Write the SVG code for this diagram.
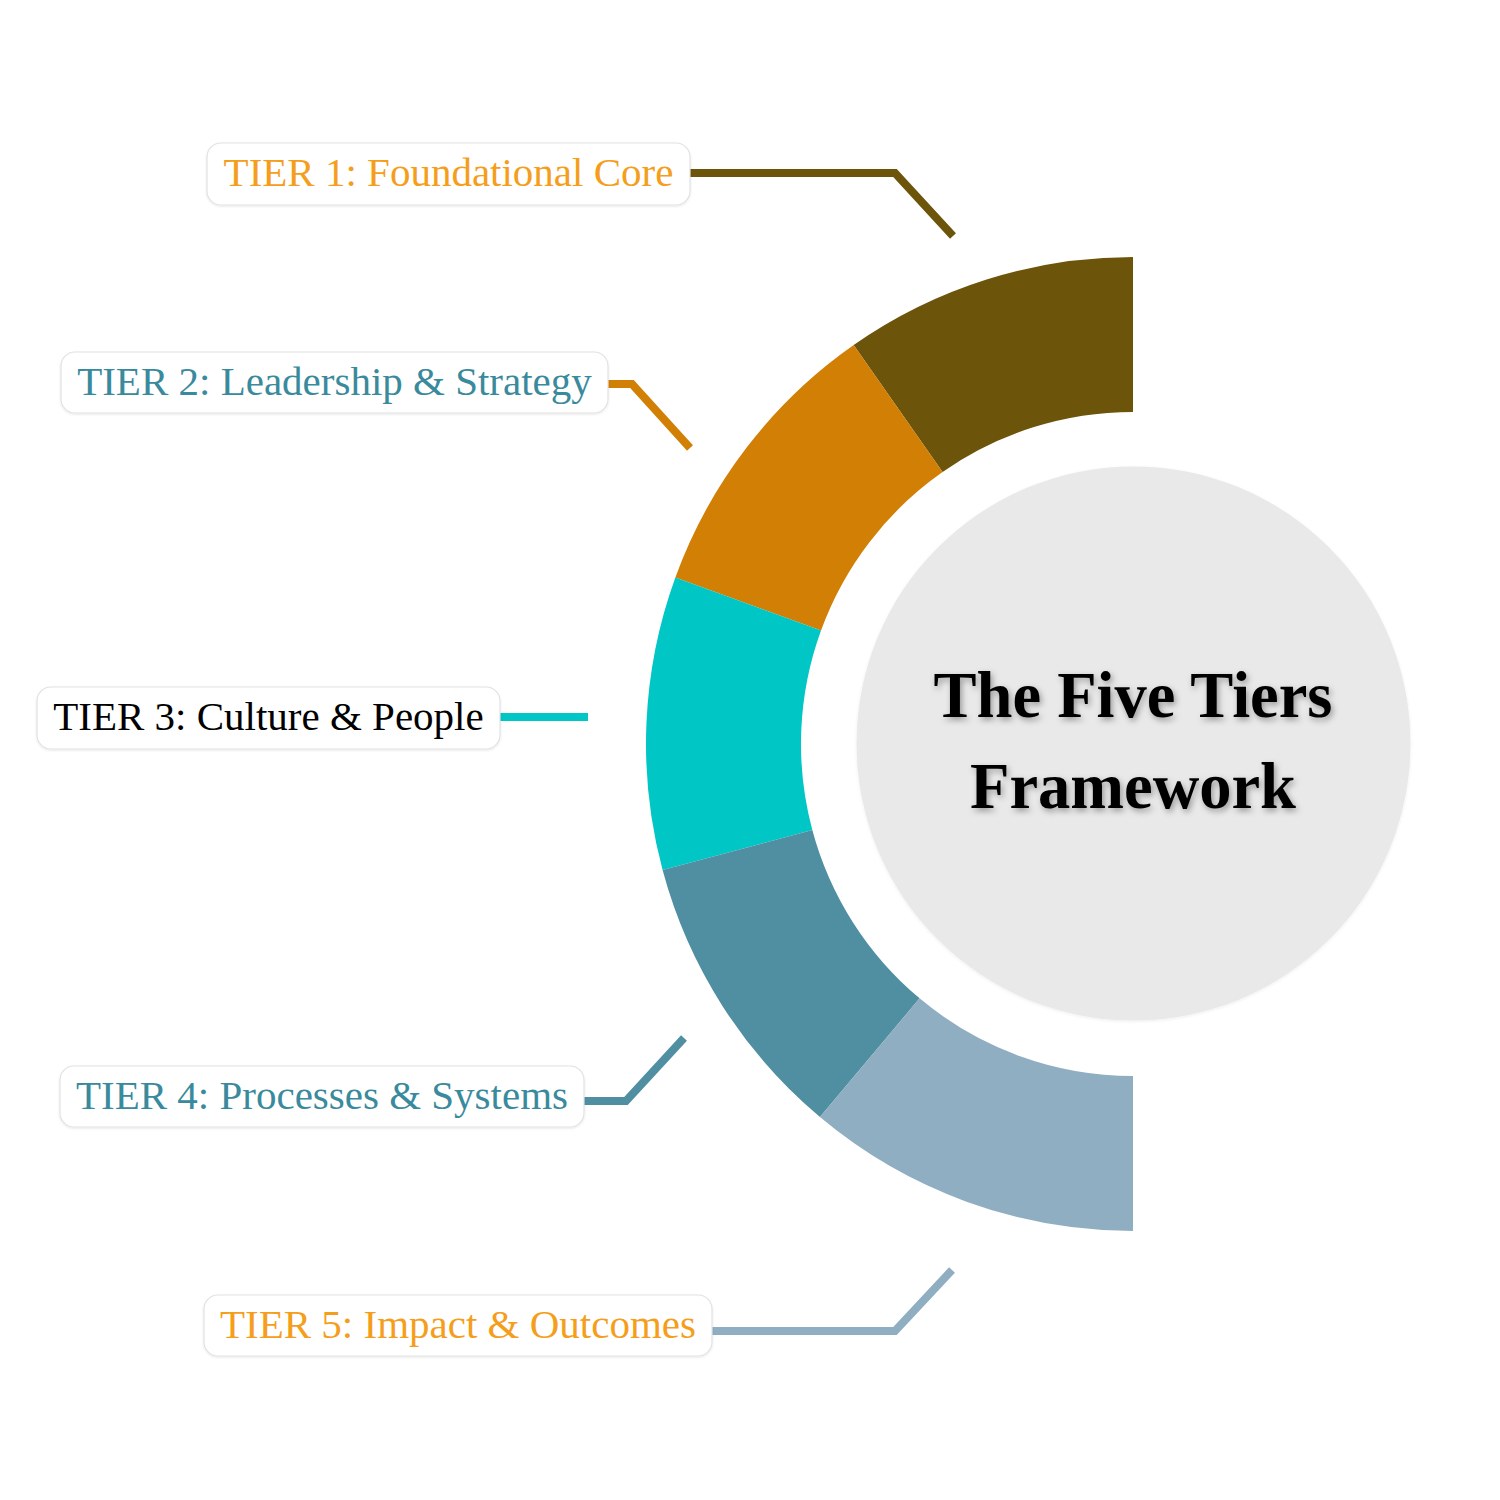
<svg xmlns="http://www.w3.org/2000/svg" width="1500" height="1500" viewBox="0 0 1500 1500">
<defs>
<filter id="ts" x="-10%" y="-20%" width="120%" height="150%">
<feDropShadow dx="2" dy="3" stdDeviation="3" flood-color="#000" flood-opacity="0.35"/>
</filter>
<filter id="cs" x="-10%" y="-10%" width="120%" height="120%">
<feDropShadow dx="0" dy="1" stdDeviation="1.5" flood-color="#000" flood-opacity="0.07"/>
</filter>
<filter id="bs" x="-5%" y="-20%" width="110%" height="140%">
<feDropShadow dx="0" dy="1" stdDeviation="1" flood-color="#000" flood-opacity="0.10"/>
</filter>
</defs>
<style>
.box{fill:#ffffff;stroke:#e2e2e2;stroke-width:1.2}
.lbl{font-family:"Liberation Serif","Times New Roman",serif;font-size:41px;text-anchor:middle}
.title{font-family:"Liberation Serif","Times New Roman",serif;font-size:64.5px;font-weight:bold;text-anchor:middle;fill:#000}
.conn{fill:none;stroke-width:8;stroke-linejoin:miter}
.orange{fill:#f59e1b}
.teal{fill:#3a8a9d}
.black{fill:#000}
</style>
<rect width="1500" height="1500" fill="#ffffff"/>
<g id="ring">
<path id="seg1" d="M1133 257 A487 487 0 0 0 853.67 345.07 L942.57 472.04 A332 332 0 0 1 1133 412 Z" fill="#6d540b"/>
<path id="seg2" d="M853.67 345.07 A487 487 0 0 0 675.37 577.44 L821.02 630.45 A332 332 0 0 1 942.57 472.04 Z" fill="#d17f05"/>
<path id="seg3" d="M675.37 577.44 A487 487 0 0 0 662.59 870.05 L812.31 829.93 A332 332 0 0 1 821.02 630.45 Z" fill="#00c6c6"/>
<path id="seg4" d="M662.59 870.05 A487 487 0 0 0 819.96 1117.06 L919.59 998.33 A332 332 0 0 1 812.31 829.93 Z" fill="#4f8fa1"/>
<path id="seg5" d="M819.96 1117.06 A487 487 0 0 0 1133 1231 L1133 1076 A332 332 0 0 1 919.59 998.33 Z" fill="#8faec2"/>
</g>
<g id="center">
<circle cx="1133.5" cy="743.5" r="277" fill="#e8e9e8" filter="url(#cs)"/>
<g filter="url(#ts)">
<text class="title" x="1133" y="717">The Five Tiers</text>
<text class="title" x="1133" y="808">Framework</text>
</g>
</g>
<g id="connectors">
<polyline class="conn" stroke="#6d540b" points="690,173 895,173 953,236"/>
<polyline class="conn" stroke="#d17f05" points="608,384 632,384 690,448"/>
<polyline class="conn" stroke="#00c6c6" points="500,717 588,717"/>
<polyline class="conn" stroke="#4f8fa1" points="584,1101 626,1101 684,1038"/>
<polyline class="conn" stroke="#8faec2" points="712,1331 895,1331 952,1270"/>
</g>
<g id="tier1">
<rect class="box" x="207" y="143" width="483" height="62" rx="14" filter="url(#bs)"/>
<text class="lbl orange" x="448.5" y="186">TIER 1: Foundational Core</text>
</g>
<g id="tier2">
<rect class="box" x="61" y="352" width="547" height="61" rx="14" filter="url(#bs)"/>
<text class="lbl teal" x="334.5" y="395">TIER 2: Leadership &amp; Strategy</text>
</g>
<g id="tier3">
<rect class="box" x="37" y="687" width="463" height="62" rx="14" filter="url(#bs)"/>
<text class="lbl black" x="268.5" y="730">TIER 3: Culture &amp; People</text>
</g>
<g id="tier4">
<rect class="box" x="60" y="1066" width="524" height="61" rx="14" filter="url(#bs)"/>
<text class="lbl teal" x="322" y="1109">TIER 4: Processes &amp; Systems</text>
</g>
<g id="tier5">
<rect class="box" x="204" y="1295" width="508" height="61" rx="14" filter="url(#bs)"/>
<text class="lbl orange" x="458" y="1338">TIER 5: Impact &amp; Outcomes</text>
</g>
</svg>
